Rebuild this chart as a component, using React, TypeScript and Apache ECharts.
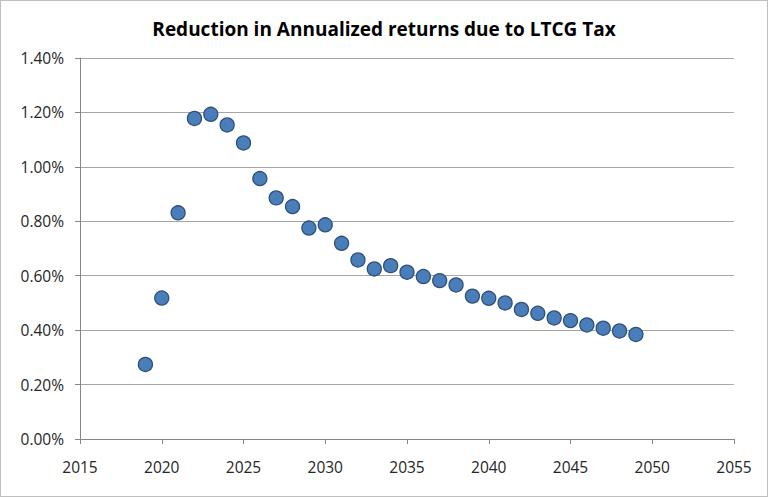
import { useEffect, useRef } from 'react';
import * as echarts from 'echarts';

// Reduction in annualized returns (%) by year
const years = [
  2019, 2020, 2021, 2022, 2023, 2024, 2025, 2026, 2027, 2028, 2029, 2030, 2031, 2032, 2033,
  2034, 2035, 2036, 2037, 2038, 2039, 2040, 2041, 2042, 2043, 2044, 2045, 2046, 2047, 2048, 2049,
];
const reduction = [
  0.274, 0.518, 0.831, 1.178, 1.193, 1.154, 1.088, 0.957, 0.886, 0.854, 0.775, 0.787, 0.719, 0.658, 0.625,
  0.637, 0.613, 0.597, 0.582, 0.566, 0.525, 0.517, 0.5, 0.476, 0.462, 0.445, 0.435, 0.419, 0.407, 0.397, 0.384,
];

const title = 'Reduction in Annualized returns due to LTCG Tax';
const font = '"Open Sans", "Liberation Sans", sans-serif';

export default function App() {
  const containerRef = useRef<HTMLDivElement>(null);

  useEffect(() => {
    if (!containerRef.current) return;
    const chart = echarts.init(containerRef.current, null, { renderer: 'svg' });

    const option: echarts.EChartsOption = {
      animation: false,
      backgroundColor: '#ffffff',
      title: {
        text: title,
        left: 'center',
        top: 13,
        textStyle: { fontFamily: font, fontSize: 19, fontWeight: 'bold', color: '#000000' },
      },
      grid: { left: 79, right: 33, top: 57, bottom: 57 },
      xAxis: {
        type: 'value',
        min: 2015,
        max: 2055,
        interval: 5,
        axisLine: { show: true, lineStyle: { color: '#868686' } },
        axisTick: { show: true, length: 5, lineStyle: { color: '#868686' } },
        axisLabel: {
          color: '#262626',
          fontFamily: font,
          fontSize: 15.5,
          margin: 20,
          formatter: (v: number) => String(v),
        },
        splitLine: { show: false },
      },
      yAxis: {
        type: 'value',
        min: 0,
        max: 1.4,
        interval: 0.2,
        axisLine: { show: true, lineStyle: { color: '#868686' } },
        axisTick: { show: true, length: 5, lineStyle: { color: '#868686' } },
        axisLabel: {
          color: '#262626',
          fontFamily: font,
          fontSize: 15.5,
          margin: 16,
          formatter: (v: number) => v.toFixed(2) + '%',
        },
        splitLine: { show: true, lineStyle: { color: '#a6a6a6', width: 1 } },
      },
      series: [
        {
          type: 'scatter',
          data: years.map((y, i) => [y, reduction[i]]),
          symbol: 'circle',
          symbolSize: 14,
          itemStyle: { color: '#4a7ebb', borderColor: '#2f4f78', borderWidth: 1.3, opacity: 1 },
        },
      ],
    };

    chart.setOption(option);
    return () => chart.dispose();
  }, []);

  return (
    <div
      style={{
        position: 'fixed',
        left: 0,
        top: 0,
        width: 768,
        height: 497,
        boxSizing: 'border-box',
        border: '1px solid #bfbfbf',
        background: '#fff',
      }}
    >
      <div ref={containerRef} style={{ width: '100%', height: '100%' }} />
    </div>
  );
}
